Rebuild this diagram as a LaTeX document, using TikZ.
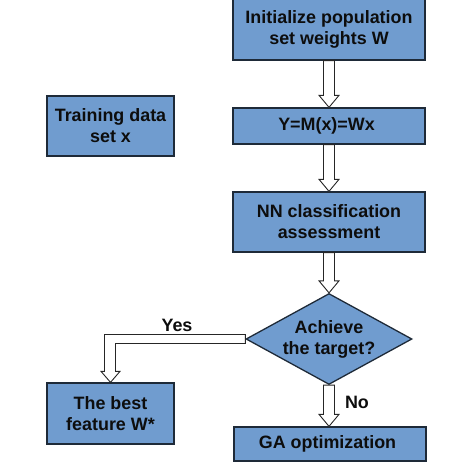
\documentclass[tikz,border=0pt]{standalone}
\usepackage{fontspec}
\setmainfont{Liberation Sans}
\usetikzlibrary{calc, shapes}
\definecolor{boxblue}{RGB}{112,156,207}
\definecolor{boxline}{RGB}{30,42,56}
\tikzstyle{process}		=[rectangle, draw=boxline, line width=1.3pt, fill=boxblue, text centered, align=center, inner sep=0pt, minimum width=192pt, text=black!95]
\tikzstyle{source}		=[process, minimum width=127pt, minimum height=60pt]
\tikzstyle{decision}	=[diamond, draw=boxline, line width=1.3pt, fill=boxblue, text centered, align=center, inner sep=0pt, aspect=1.82, minimum width=166pt, minimum height=91pt, text=black!95]
\tikzstyle{answer}		=[text=black!95, inner sep=0pt]
\tikzstyle{hollow}		=[draw=black!85, line width=0.9pt, fill=white, line join=miter]
\newcommand{\hollowdown}[2]{%
	\draw[hollow] ($(#1)+(-5.5,0)$) -- ($(#1 |- #2)+(-5.5,-12)$) -- ($(#1 |- #2)+(-10,-12)$) -- (#1 |- #2)
		-- ($(#1 |- #2)+(10,-12)$) -- ($(#1 |- #2)+(5.5,-12)$) -- ($(#1)+(5.5,0)$) -- cycle;}

\begin{document}
\begin{tikzpicture}[x=1pt, y=-1pt, font=\fontsize{17.9}{21}\selectfont\bfseries]

	\useasboundingbox (0,0) rectangle (474,463);

	\node (Init)		[process,	minimum height=62pt]	at (329.0, 29.0)		{	Initialize population\\set weights W	};
	\node (Train)		[source]							at (110.5, 126.0)		{	Training data\\set x					};
	\node (Model)		[process,	minimum height=36pt]	at (329.0, 126.0)		{	Y=M(x)=Wx								};
	\node (Assess)		[process,	minimum height=60pt]	at (329.0, 222.0)		{	NN classification\\assessment			};
	\node (Check)		[decision]							at (329.0, 339.0)		{	Achieve\\the target?					};
	\node (Best)		[source,	minimum height=61pt]	at (110.5, 413.5)		{	The best\\feature W*					};
	\node (GA)			[process,	minimum height=34pt]	at (330.0, 444.0)		{	GA optimization							};

	\node (Yes)			[answer]							at (177.0, 325.0)		{	Yes		};
	\node (No)			[answer]							at (357.0, 402.0)		{	No		};

	% hollow block arrows
	\hollowdown{Init.south}{Model.north}
	\hollowdown{Model.south}{Assess.north}
	\hollowdown{Assess.south}{Check.north}
	\hollowdown{Check.south}{GA.north}

	\draw[hollow] ($(Check.west)+(0,-4.5)$) -- ($(Check.west -| Best.north)+(-6,-4.5)$) -- ($(Best.north)+(-6,-11)$)
		-- ($(Best.north)+(-9.5,-11)$) -- (Best.north) -- ($(Best.north)+(9.5,-11)$) -- ($(Best.north)+(5,-11)$)
		-- ($(Check.west -| Best.north)+(5,4.5)$) -- ($(Check.west)+(0,4.5)$) -- cycle;

\end{tikzpicture}
\end{document}
